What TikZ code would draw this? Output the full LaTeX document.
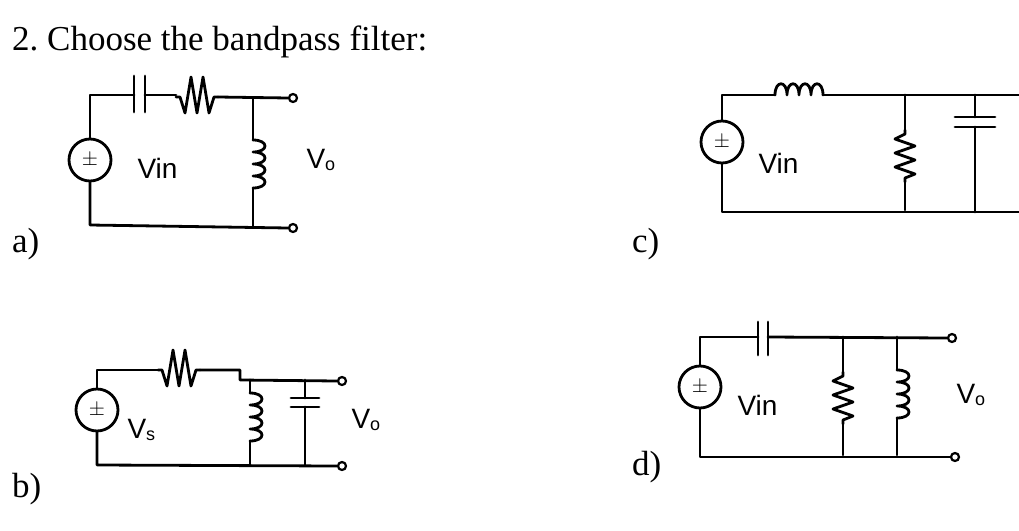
\documentclass[tikz,border=0pt]{standalone}
\usepackage{fontspec}
\setmainfont{Liberation Serif}
\newfontfamily\hand{Liberation Sans}
\frenchspacing
\begin{document}
\begin{tikzpicture}[x=1pt,y=-1pt,
  w/.style={line width=2.8pt,line cap=round,line join=round},
  term/.style={circle,draw,line width=2.2pt,minimum size=8pt,inner sep=0pt},
  src/.style={circle,draw,line width=2.8pt,minimum size=42pt,inner sep=0pt,font=\hand\fontsize{22}{22}\selectfont},
  lab/.style={font=\hand\fontsize{28}{28}\selectfont,anchor=west},
  big/.style={font=\fontsize{35}{40}\selectfont,anchor=base west,inner sep=0pt},
  pics/resh/.style={code={\draw[w] (0,0)--(4,0)--(9,16)--(15,-20)--(21,16)--(27,-20)--(33,16)--(38,0)--(42,0);}},
  pics/resv/.style={code={\draw[w] (0,0)--(0,4)--(-10,9)--(10,16)--(-10,23)--(10,30)--(-10,37)--(10,44)--(0,48)--(0,52);}},
  pics/indv/.style={code={\draw[w] (0,0) .. controls (16,0) and (16,12) .. (0,12) .. controls (16,12) and (16,24) .. (0,24) .. controls (16,24) and (16,36) .. (0,36) .. controls (16,36) and (16,48) .. (0,48);}}
]
\useasboundingbox (0,0) rectangle (1019,530);
\node[big] (title) at (12,50) {2. Choose the bandpass filter:};
\node[big] (la) at (12,252) {a)};
\node[big] (lb) at (12,497) {b)};
\node[big] (lc) at (632,252) {c)};
\node[big] (ld) at (632,475) {d)};

% ---------- a ----------
\node[src] (sa) at (90,160) {$\pm$};
\node[term] (ta1) at (293,98) {};
\node[term] (ta2) at (293,228) {};
\draw[w] (sa.north) -- (90,95) -- (134,95);
\draw[w] (134,76) -- (134,112) (145,76) -- (145,112);
\draw[w] (145,95) -- (176,95);
\pic at (176,97) {resh};
\draw[w] (218,97) -- (ta1.west);
\draw[w] (253,98) -- (253,140);
\pic at (253,140) {indv};
\draw[w] (253,188) -- (253,226);
\draw[w] (sa.south) -- (90,225) -- (ta2.west);
\node[lab] (va) at (134,168) {Vin};
\node[lab] (voa) at (303,160) {V\raisebox{-2pt}{\fontsize{18}{18}\selectfont o}};

% ---------- b ----------
\node[src] (sb) at (97,410) {$\pm$};
\node[term] (tb1) at (342,381) {};
\node[term] (tb2) at (342,466) {};
\draw[w] (sb.north) -- (97,370) -- (158,370);
\pic at (158,370) {resh};
\draw[w] (200,370) -- (240,370) -- (240,380) -- (tb1.west);
\draw[w] (250,380) -- (250,393);
\pic at (250,393) {indv};
\draw[w] (250,441) -- (250,465);
\draw[w] (305,380) -- (305,398) (291,398) -- (319,398) (291,407) -- (319,407) (305,407) -- (305,465);
\draw[w] (sb.south) -- (97,465) -- (tb2.west);
\node[lab] (vb) at (124,430) {V\raisebox{-2pt}{\fontsize{18}{18}\selectfont s}};
\node[lab] (vob) at (348,420) {V\raisebox{-2pt}{\fontsize{18}{18}\selectfont o}};

% ---------- c ----------
\node[src] (sc) at (722,142) {$\pm$};
\draw[w] (sc.north) -- (722,95) -- (775,95);
\draw[w] (775,95) .. controls (775,80) and (787,80) .. (787,95) .. controls (787,80) and (799,80) .. (799,95) .. controls (799,80) and (811,80) .. (811,95) .. controls (811,80) and (823,80) .. (823,95);
\draw[w] (823,95) -- (1019,95);
\draw[w] (905,95) -- (905,130);
\pic at (905,130) {resv};
\draw[w] (905,182) -- (905,210);
\draw[w] (975,95) -- (975,117) (955,117) -- (995,117) (955,127) -- (995,127) (975,127) -- (975,212);
\draw[w] (sc.south) -- (722,212) -- (1019,212);
\node[lab] (vc) at (755,163) {Vin};

% ---------- d ----------
\node[src] (sd) at (700,387) {$\pm$};
\node[term] (td1) at (952,338) {};
\node[term] (td2) at (955,457) {};
\draw[w] (sd.north) -- (700,337) -- (758,337);
\draw[w] (758,322) -- (758,355) (768,322) -- (768,355);
\draw[w] (768,337) -- (td1.west);
\draw[w] (843,337) -- (843,372);
\pic at (843,372) {resv};
\draw[w] (843,424) -- (843,455);
\draw[w] (897,337) -- (897,370);
\pic at (897,370) {indv};
\draw[w] (897,418) -- (897,455);
\draw[w] (sd.south) -- (700,457) -- (td2.west);
\node[lab] (vd) at (734,405) {Vin};
\node[lab] (vod) at (953,395) {V\raisebox{-2pt}{\fontsize{18}{18}\selectfont o}};
\end{tikzpicture}
\end{document}
